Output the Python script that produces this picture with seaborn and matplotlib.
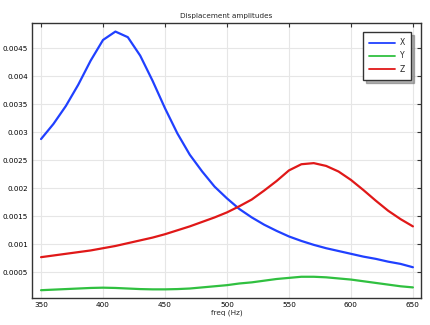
import numpy as np
import pandas as pd
import matplotlib
matplotlib.use("Agg")
import matplotlib.pyplot as plt
import seaborn as sns

freq = list(range(350, 651, 10))
disp_x = [0.00288, 0.00315, 0.00347, 0.00385, 0.00428, 0.00465, 0.00480, 0.00470, 0.00437, 0.00392,
          0.00343, 0.00298, 0.00260, 0.00230, 0.00203, 0.00182, 0.00163, 0.00148, 0.00135, 0.00124,
          0.00114, 0.00106, 0.00099, 0.00093, 0.00088, 0.00083, 0.00078, 0.00074, 0.00069, 0.00065, 0.00059]
disp_y = [0.000180, 0.000190, 0.000200, 0.000210, 0.000220, 0.000225, 0.000220, 0.000210, 0.000200, 0.000195,
          0.000195, 0.000200, 0.000210, 0.000230, 0.000250, 0.000270, 0.000300, 0.000320, 0.000350, 0.000380,
          0.000400, 0.000420, 0.000420, 0.000410, 0.000390, 0.000370, 0.000340, 0.000310, 0.000280, 0.000250, 0.000230]
disp_z = [0.00077, 0.00080, 0.00083, 0.00086, 0.00089, 0.00093, 0.00097, 0.00102, 0.00107, 0.00112,
          0.00118, 0.00125, 0.00132, 0.00140, 0.00148, 0.00157, 0.00168, 0.00180, 0.00196, 0.00213,
          0.00232, 0.00243, 0.00245, 0.00240, 0.00230, 0.00215, 0.00197, 0.00178, 0.00160, 0.00145, 0.00132]
series_names = ["X", "Y", "Z"]
series_colors = ["#2040ff", "#30c040", "#e01818"]
x_ticks = [350, 400, 450, 500, 550, 600, 650]
y_ticks = [0.0005, 0.001, 0.0015, 0.002, 0.0025, 0.003, 0.0035, 0.004, 0.0045]
y_tick_labels = ["0.0005", "0.001", "0.0015", "0.002", "0.0025", "0.003", "0.0035", "0.004", "0.0045"]

df = pd.DataFrame({
    "freq": freq * 3,
    "value": disp_x + disp_y + disp_z,
    "comp": [series_names[0]] * len(freq) + [series_names[1]] * len(freq) + [series_names[2]] * len(freq),
})

sns.set_style("white")
plt.rcParams["font.family"] = ["DejaVu Sans"]
fig = plt.figure(figsize=(4.3, 3.25), dpi=100)
ax = fig.add_axes([0.0744, 0.084, 0.9046, 0.844])
sns.lineplot(data=df, x="freq", y="value", hue="comp", palette=dict(zip(series_names, series_colors)),
             linewidth=1.6, ax=ax)
ax.set_xlim(342.7, 656.5)
ax.set_ylim(0.000046, 0.004946)
ax.set_xticks(x_ticks)
ax.set_yticks(y_ticks)
ax.set_yticklabels(y_tick_labels)
ax.grid(True, color="#e6e6e6", linewidth=0.8)
ax.tick_params(direction="in", length=3, width=0.8, labelsize=5.2, top=True, right=True,
               colors="#333333", labelcolor="black", pad=3)
for s in ax.spines.values():
    s.set_color("#333333")
    s.set_linewidth(1.0)
ax.set_title("Displacement amplitudes", fontsize=5.2, pad=4)
ax.set_xlabel("freq (Hz)", fontsize=5.2, labelpad=1)
ax.set_ylabel("")
leg = ax.legend(loc="upper right", fontsize=5.5, frameon=True, fancybox=False,
                shadow={"color": "#666666"},
                handlelength=3.3, handletextpad=0.7, borderpad=0.8, labelspacing=0.55,
                borderaxespad=0, bbox_to_anchor=(0.975, 0.968))
for ln in leg.get_lines():
    ln.set_linewidth(1.3)
leg.get_frame().set_edgecolor("#333333")
leg.get_frame().set_linewidth(1.0)
fig.savefig("out.png", dpi=100)
